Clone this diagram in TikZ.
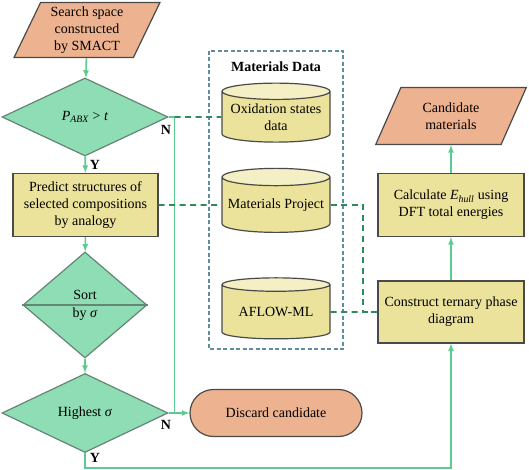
\documentclass[tikz,border=0pt]{standalone}
\usepackage{fontspec}
\setmainfont{Liberation Serif}
\usetikzlibrary{shapes.geometric}
\usetikzlibrary{positioning}
\usetikzlibrary{calc}
\definecolor{orangefill}{HTML}{EDB28F}
\definecolor{greenfill}{HTML}{8EDDB5}
\definecolor{yellowfill}{HTML}{EBE29B}
\definecolor{yellowtop}{HTML}{F4EFC4}
\definecolor{flowgreen}{HTML}{5CCB8F}
\definecolor{dashgreen}{HTML}{2F8A5C}
\definecolor{framegrey}{HTML}{5E8E9E}
\definecolor{edge}{HTML}{4A4A4A}
\tikzset{every picture/.style={line width=1.2pt},
  txt/.style={font=\fontsize{14}{17}\selectfont,align=center},
  io/.style={txt,trapezium,trapezium stretches=true,draw=edge,fill=orangefill,inner sep=0pt},
  decision/.style={txt,diamond,draw=edge!60!greenfill,fill=greenfill,inner sep=0pt},
  process/.style={txt,rectangle,draw=edge,fill=yellowfill,minimum width=146,minimum height=63,inner sep=1pt},
  store/.style={txt,cylinder,shape border rotate=90,aspect=0.18,draw=edge,
    cylinder uses custom fill,cylinder body fill=yellowfill,cylinder end fill=yellowtop,
    minimum width=108,inner sep=0pt},
  flow/.style={draw=flowgreen,line width=1.6pt,-latex},
  link/.style={draw=dashgreen,line width=1.8pt,dash pattern=on 6pt off 4.5pt},
  yn/.style={font=\bfseries\fontsize{14}{14}\selectfont}}
\begin{document}
\begin{tikzpicture}[x=1pt,y=-1pt]
\useasboundingbox (0,0) rectangle (529,470);

% left column
\node (search) at (87,30) [io,trapezium left angle=66,trapezium right angle=114,minimum width=146,minimum height=55] {Search space\\constructed\\by SMACT};
\node (test) at (85,117) [decision,minimum width=166,minimum height=78] {\textit{P}\textsubscript{\textit{ABX}} > \textit{t}};
\node (predict) at (85.5,205) [process,minimum width=145] {Predict structures of\\selected compositions\\by analogy};
\node (sort) at (85,305) [decision,minimum width=124,minimum height=106] {Sort\\[1pt]by \textit{σ}};
\draw [draw=edge!60!greenfill] (sort.west) -- (sort.east);
\node (best) at (85,413) [decision,minimum width=166,minimum height=79] {Highest \textit{σ}};
\node (discard) at (276,413) [txt,draw=edge,fill=orangefill,rounded corners=23.5,minimum width=172,minimum height=47] {Discard candidate};

% materials data
\draw [framegrey,line width=1.4pt,dash pattern=on 4pt off 2.5pt] (209,51) rectangle (343,349);
\node (mdata) at (276,67) [txt,font=\bfseries\fontsize{14}{17}\selectfont] {Materials Data};
\node (oxid) at (276,117) [store,minimum height=59] {Oxidation states\\data};
\node (mp) at (276,205) [store,minimum height=64] {Materials Project};
\node (aflow) at (276,312) [store,minimum height=61] {AFLOW-ML};

% right column
\node (cand) at (451,116) [io,trapezium left angle=62,trapezium right angle=118,minimum width=151,minimum height=57] {Candidate\\materials};
\node (calc) at (451,205) [process] {Calculate \textit{E}\textsubscript{\textit{hull}} using\\DFT total energies};
\node (tern) at (451,312) [process,minimum height=62] {Construct ternary phase\\diagram};

% connectors
\coordinate (nbus) at ($(test.east)+(6,0)$);
\draw [flow] (search) -- (test);
\draw [flow] (test) -- (predict);
\draw [flow] (predict) -- (sort);
\draw [flow] (sort) -- (best);
\draw [flow,-] (test.east) -- (nbus) -- (nbus |- best.east);
\draw [flow] (best.east) -- (discard.west);
\draw [flow] (best.south) -- ++(0,15) -| (tern.south);
\draw [flow] (tern) -- (calc);
\draw [flow] (calc) -- (cand);
\draw [link] (nbus) -- (oxid.west);
\draw [link] (predict.east) -- (mp.west);
\draw [link] (mp.east) -- ++(32,0) |- (tern.west);
\draw [link] (aflow.east) -- (tern.west);

\node (n1) at (166,130) [yn] {N};
\node (y1) at (95,165) [yn] {Y};
\node (n2) at (166,425) [yn] {N};
\node (y2) at (95,458) [yn] {Y};
\end{tikzpicture}
\end{document}
